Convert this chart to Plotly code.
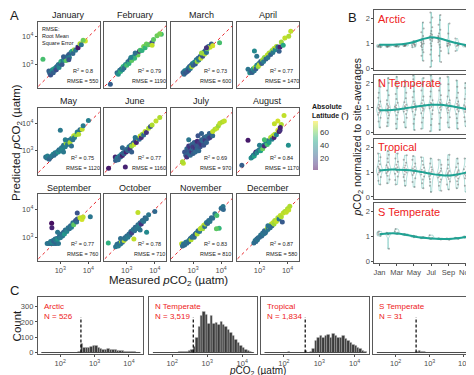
import math
import plotly.graph_objects as go

W, H = 474, 375
FONT = "Liberation Sans, Arial, sans-serif"

# ---------------- Panel A data: (measured, predicted, |latitude|) ----------------
MONTH_NAMES = ["January", "February", "March", "April", "May", "June", "July",
               "August", "September", "October", "November", "December"]
R2_VALUES = ["0.8", "0.79", "0.73", "0.77", "0.75", "0.77", "0.69", "0.84",
             "0.77", "0.78", "0.83", "0.87"]
RMSE_VALUES = [550, 1190, 600, 1470, 1120, 1160, 970, 1170, 760, 710, 810, 580]

JAN = [(390, 590, 55), (420, 480, 52), (450, 420, 58), (500, 560, 48), (520, 650, 42), (560, 500, 55),
       (600, 700, 33), (640, 620, 52), (700, 800, 46), (720, 650, 60), (800, 900, 55), (850, 1000, 48),
       (900, 780, 43), (1000, 1100, 53), (1050, 1300, 30), (1150, 1000, 56), (1250, 1400, 48), (1400, 1500, 38),
       (1500, 1700, 55), (1600, 1400, 22), (1800, 2000, 48), (2000, 2300, 56), (2100, 1800, 46), (2400, 2700, 53),
       (2600, 3000, 33), (2800, 2500, 52), (3200, 3600, 15), (3500, 3300, 48), (4000, 4200, 55), (4300, 4000, 72),
       (5000, 5600, 12), (5600, 5200, 48), (7800, 7100, 8), (6500, 7500, 20), (240, 1550, 25), (1300, 1900, 55),
       (2000, 1500, 58)]
FEB = [(260, 195, 55), (450, 500, 50), (500, 450, 40), (560, 620, 48), (600, 560, 30), (650, 700, 52),
       (700, 650, 44), (750, 850, 28), (800, 750, 50), (900, 1000, 40), (1000, 950, 25), (1100, 1250, 48),
       (1200, 1100, 30), (1300, 1500, 55), (1500, 1400, 22), (1700, 1900, 40), (1900, 1700, 28), (2200, 2400, 48),
       (2500, 2200, 20), (2800, 3000, 70), (3000, 3300, 25), (3500, 3200, 30), (4000, 4500, 18), (4500, 4000, 28),
       (5000, 5500, 20), (6000, 5200, 22), (8000, 6200, 58), (8000, 5000, 10), (9000, 8000, 22), (12000, 11000, 20),
       (17000, 12500, 25), (15000, 13000, 18), (2000, 2600, 50), (1400, 1800, 44)]
MAR = [(440, 520, 55), (480, 450, 52), (500, 600, 48), (550, 520, 58), (600, 650, 42), (620, 560, 55),
       (680, 750, 48), (700, 620, 60), (750, 850, 52), (800, 720, 46), (850, 950, 55), (900, 850, 12),
       (950, 1100, 48), (1000, 950, 53), (1100, 1200, 42), (1200, 1050, 56), (1300, 1500, 48), (1400, 1300, 15),
       (1500, 1700, 52), (1600, 1450, 46), (1800, 2000, 55), (1900, 1700, 10), (2000, 2300, 48), (2200, 2000, 58),
       (2500, 2900, 42), (2600, 2400, 12), (2800, 3300, 55), (3000, 2700, 48), (3200, 3700, 20), (3500, 4500, 52),
       (4000, 4200, 10), (4500, 5500, 55), (5000, 4800, 8), (8800, 6100, 25), (3000, 4000, 66), (2000, 2600, 14)]
APR = [(390, 680, 48), (450, 500, 42), (500, 600, 52), (550, 520, 55), (600, 700, 33), (650, 600, 48),
       (700, 800, 12), (750, 700, 55), (800, 950, 42), (900, 850, 15), (950, 1100, 48), (1000, 1000, 10),
       (1100, 1300, 52), (1200, 1100, 55), (1300, 1500, 12), (1400, 1300, 46), (1500, 1800, 15), (1700, 1600, 53),
       (1900, 2200, 10), (2000, 1800, 48), (2200, 2600, 12), (2500, 2300, 55), (2800, 3200, 15), (3000, 2700, 48),
       (3300, 3800, 10), (3600, 3400, 42), (4000, 4500, 12), (4500, 4300, 52), (5400, 4300, 70), (6000, 6500, 14),
       (7000, 5000, 33), (8000, 9000, 10), (11000, 10500, 12), (13000, 15800, 10), (660, 3100, 42), (800, 2000, 48),
       (5000, 3000, 55)]
MAY = [(300, 600, 50), (330, 550, 47), (350, 650, 45), (400, 500, 53), (450, 600, 50), (500, 650, 47),
       (550, 750, 43), (600, 700, 50), (650, 850, 45), (700, 800, 49), (800, 950, 47), (850, 900, 40),
       (900, 1100, 50), (1000, 1000, 45), (1100, 1300, 47), (1200, 1150, 43), (1300, 1600, 49), (1500, 1400, 45),
       (1600, 1900, 15), (1800, 1700, 47), (2000, 2400, 50), (2200, 2000, 12), (2500, 2800, 45), (2800, 2500, 49),
       (3000, 3500, 10), (3200, 3000, 47), (3600, 3800, 15), (4000, 4800, 45), (4500, 4000, 12), (5000, 5800, 50),
       (6000, 6000, 10), (6500, 8000, 47), (10000, 12500, 45), (1000, 5500, 47), (1500, 2500, 45), (2500, 1500, 50),
       (1300, 900, 47)]
JUN = [(225, 235, 72), (390, 600, 70), (890, 260, 70), (400, 450, 55), (450, 550, 48), (500, 480, 52),
       (550, 650, 46), (600, 600, 55), (650, 750, 48), (700, 680, 70), (750, 850, 52), (800, 780, 55),
       (900, 1000, 48), (950, 900, 70), (1000, 1150, 52), (1100, 1000, 55), (1200, 1400, 46), (1300, 1200, 66),
       (1400, 1600, 53), (1500, 1500, 15), (1700, 1900, 52), (1800, 1700, 10), (2000, 2300, 55), (2200, 2000, 70),
       (2500, 2800, 12), (2800, 2600, 52), (3000, 3400, 10), (3300, 3000, 68), (3600, 4000, 14), (4000, 3700, 52),
       (4500, 5000, 10), (5000, 4600, 66), (6000, 6500, 12), (7000, 7500, 58), (8000, 8500, 12), (11000, 12000, 10),
       (15000, 16000, 12), (1500, 900, 55), (2000, 3000, 48), (700, 1300, 52)]
JUL = [(450, 360, 10), (420, 400, 12), (500, 900, 58), (550, 700, 54), (600, 1200, 52), (600, 600, 66),
       (650, 1000, 58), (700, 800, 54), (700, 1500, 64), (750, 1100, 55), (800, 700, 52), (800, 1300, 66),
       (850, 1000, 58), (900, 1700, 54), (900, 900, 68), (950, 1200, 52), (1000, 1400, 64), (1000, 800, 55),
       (1100, 1100, 58), (1100, 2000, 54), (1200, 1300, 66), (1200, 900, 52), (1300, 1600, 58), (1400, 1200, 54),
       (1400, 2200, 68), (1500, 1500, 55), (1600, 1000, 52), (1700, 2000, 64), (1800, 1400, 58), (2000, 2500, 54),
       (2000, 1700, 66), (2200, 2200, 52), (2400, 1600, 58), (2500, 3000, 55), (2700, 2400, 64), (3000, 2000, 54),
       (3000, 3300, 52), (3500, 2800, 58), (3800, 4200, 54), (4000, 3000, 64), (4500, 4200, 55), (5000, 3500, 52),
       (5000, 5000, 10), (6000, 6000, 12), (7000, 6500, 10), (8000, 8000, 14), (9000, 10000, 10), (11000, 11000, 12),
       (13000, 12000, 10), (700, 2500, 48), (2000, 4200, 54), (1500, 3500, 58)]
AUG = [(235, 300, 55), (390, 2400, 72), (500, 550, 40), (550, 600, 45), (600, 700, 50), (650, 650, 35),
       (700, 800, 45), (750, 900, 70), (800, 850, 40), (900, 1000, 47), (1000, 1100, 50), (1100, 1000, 35),
       (1200, 1400, 45), (1300, 1200, 20), (1400, 1600, 40), (1500, 1500, 68), (1700, 1900, 45), (1900, 1700, 25),
       (2000, 2300, 50), (2200, 2000, 35), (2500, 3000, 12), (2800, 2600, 45), (3000, 3500, 10), (3300, 3000, 70),
       (3500, 4000, 12), (4000, 3800, 45), (4500, 5500, 8), (5000, 5000, 72), (5400, 5500, 66), (3400, 9500, 10),
       (4500, 12000, 8), (6000, 9000, 12), (7500, 19000, 10), (5500, 7000, 70), (10700, 1600, 40), (1000, 1600, 45),
       (1500, 2500, 25)]
SEP = [(340, 590, 48), (380, 590, 50), (420, 590, 46), (460, 590, 53), (520, 590, 48), (580, 590, 50),
       (650, 600, 46), (700, 590, 52), (860, 590, 48), (450, 700, 48), (500, 650, 43), (550, 750, 50),
       (600, 700, 53), (650, 850, 48), (700, 780, 46), (750, 900, 50), (800, 850, 38), (900, 1000, 48),
       (950, 1200, 53), (1000, 950, 46), (1100, 1300, 50), (1200, 1100, 48), (1300, 1500, 52), (1400, 1300, 38),
       (1500, 1800, 50), (1700, 1600, 43), (1900, 2200, 48), (2100, 2000, 50), (2300, 2600, 52), (2500, 2300, 46),
       (2800, 3300, 48), (3000, 2800, 22), (3500, 4000, 58), (3800, 3500, 50), (4000, 4500, 56), (5000, 5000, 10),
       (5900, 4300, 8), (6500, 5300, 10), (4000, 7400, 58), (11700, 5400, 48), (490, 3200, 74), (500, 2200, 70),
       (800, 1500, 48)]
OCT = [(220, 620, 30), (400, 450, 48), (450, 550, 50), (500, 480, 46), (550, 620, 52), (600, 560, 48),
       (650, 700, 12), (700, 650, 50), (750, 800, 48), (800, 750, 10), (850, 950, 52), (900, 850, 48),
       (1000, 1100, 50), (1100, 1000, 46), (1200, 1300, 52), (1300, 1200, 48), (1400, 1600, 50), (1500, 1400, 62),
       (1700, 1900, 48), (1800, 860, 10), (1900, 1700, 50), (2000, 2300, 52), (2200, 2000, 48), (2500, 2800, 50),
       (2700, 2500, 46), (3000, 3300, 52), (3300, 3000, 66), (3600, 4000, 50), (4000, 3700, 48), (4500, 5000, 52),
       (5000, 4600, 50), (6000, 6500, 48), (5100, 1500, 42), (2500, 7800, 10), (10000, 8500, 52), (3000, 1800, 48),
       (600, 900, 50)]
NOV = [(390, 580, 10), (420, 480, 50), (450, 560, 48), (500, 520, 52), (550, 650, 48), (600, 600, 50),
       (650, 700, 46), (700, 680, 52), (750, 800, 48), (800, 900, 50), (850, 800, 12), (900, 1000, 52),
       (1000, 1100, 48), (1100, 1000, 50), (1200, 1300, 58), (1300, 1400, 48), (1400, 1300, 12), (1500, 1700, 52),
       (1700, 1600, 48), (1800, 2000, 10), (2000, 2200, 12), (2200, 2000, 14), (2400, 2700, 10), (2600, 2400, 50),
       (2800, 3000, 12), (3000, 3400, 48), (3300, 3100, 52), (3600, 4000, 50), (4000, 3700, 48), (4500, 5000, 52),
       (5000, 4800, 50), (6000, 7000, 48), (7000, 6000, 25), (8500, 2100, 28), (6800, 2000, 22), (10000, 11000, 50),
       (11700, 12900, 48), (12000, 10000, 52)]
DEC = [(630, 620, 50), (700, 750, 48), (750, 700, 52), (800, 850, 50), (850, 800, 48), (900, 950, 52),
       (1000, 1000, 50), (1100, 1200, 48), (1200, 1100, 52), (1300, 1400, 50), (1400, 1300, 48), (1500, 1700, 52),
       (1700, 1600, 50), (1900, 2100, 12), (2000, 1900, 48), (2200, 2400, 10), (2400, 2200, 50), (2600, 2900, 12),
       (2800, 2600, 52), (3000, 3300, 10), (3300, 3000, 14), (3500, 4000, 12), (4000, 3700, 10), (4500, 5000, 12),
       (5000, 4500, 48), (5500, 6000, 10), (6000, 5500, 12), (6500, 3500, 56), (7000, 7500, 10), (8000, 8500, 12),
       (9000, 8000, 10), (10000, 10500, 12), (11000, 9500, 10), (12000, 13000, 12), (2000, 2600, 48), (1600, 1400, 50)]
MONTH_POINTS = [JAN, FEB, MAR, APR, MAY, JUN, JUL, AUG, SEP, OCT, NOV, DEC]

A_TICK_VALS = [1000, 10000]
A_TICK_TEXT = ["10<sup>3</sup>", "10<sup>4</sup>"]
IDENTITY = [10, 100000]
LAT_TICKS = [20, 40, 60]

# ---------------- Panel B data ----------------
B_MONTH_NUM = [1, 2, 3, 4, 5, 6, 7, 8, 9, 10, 11, 12]
B_TICK_VALS = [1, 3, 5, 7, 9, 11]
B_TICK_TEXT = ["Jan", "Mar", "May", "Jul", "Sep", "Nov"]
REGIONS = ["Arctic", "N Temperate", "Tropical", "S Temperate"]

ARCTIC_VIOLIN = [
    [0.85, 0.88, 0.9, 0.9, 0.92, 0.95, 0.87, 0.93],
    [0.86, 0.9, 0.92, 0.9, 0.94, 0.88, 0.91],
    [0.88, 0.9, 0.93, 0.95, 0.9, 0.87, 0.92],
    [0.9, 0.93, 0.95, 0.97, 0.92, 0.96, 0.9],
    [0.9, 0.95, 1.0, 1.05, 0.97, 1.02, 0.93, 1.1, 0.85],
    [0.3, 0.5, 0.65, 0.75, 0.85, 0.9, 0.95, 1.0, 1.0, 1.05, 1.1, 1.15, 1.2, 1.3, 1.45, 1.6, 1.85],
    [0.05, 0.3, 0.55, 0.75, 0.9, 1.0, 1.1, 1.15, 1.2, 1.2, 1.25, 1.3, 1.35, 1.4, 1.5, 1.65, 1.85, 2.05, 2.25],
    [0.25, 0.5, 0.7, 0.85, 0.95, 1.05, 1.1, 1.15, 1.2, 1.25, 1.3, 1.4, 1.55, 1.75, 1.95, 2.15],
    [0.9, 0.95, 1.0, 1.05, 1.0, 0.92, 1.1, 1.4, 1.8, 0.6],
    [0.9, 0.95, 1.0, 0.97, 1.02, 0.93, 1.2, 0.7],
    [0.88, 0.9, 0.93, 0.9, 0.92, 0.86],
    [0.85, 0.87, 0.9, 0.88, 0.86, 0.84],
]
NTEMP_VIOLIN = [
    [0.2, 0.45, 0.6, 0.72, 0.8, 0.85, 0.9, 0.92, 0.95, 1.0, 1.05, 1.12, 1.25, 1.4, 1.6, 1.85, 2.1],
    [0.25, 0.4, 0.58, 0.7, 0.8, 0.86, 0.9, 0.93, 0.97, 1.02, 1.08, 1.15, 1.3, 1.5, 1.7, 2.0, 2.2],
    [0.15, 0.35, 0.55, 0.7, 0.82, 0.88, 0.92, 0.95, 1.0, 1.04, 1.1, 1.2, 1.35, 1.55, 1.8, 2.05, 2.25],
    [0.2, 0.42, 0.6, 0.75, 0.85, 0.9, 0.95, 0.98, 1.02, 1.06, 1.12, 1.22, 1.38, 1.6, 1.85, 2.1],
    [0.1, 0.35, 0.55, 0.72, 0.85, 0.92, 0.97, 1.0, 1.04, 1.08, 1.15, 1.25, 1.42, 1.65, 1.9, 2.15, 2.3],
    [0.15, 0.4, 0.6, 0.78, 0.88, 0.95, 1.0, 1.04, 1.08, 1.12, 1.18, 1.3, 1.45, 1.7, 1.95, 2.2],
    [0.05, 0.3, 0.55, 0.75, 0.9, 0.98, 1.04, 1.08, 1.12, 1.15, 1.2, 1.3, 1.45, 1.65, 1.9, 2.1, 2.3],
    [0.1, 0.35, 0.6, 0.8, 0.92, 1.0, 1.05, 1.1, 1.13, 1.17, 1.22, 1.32, 1.5, 1.7, 1.95, 2.2],
    [0.2, 0.4, 0.62, 0.8, 0.9, 0.97, 1.02, 1.06, 1.1, 1.15, 1.2, 1.3, 1.45, 1.7, 1.95, 2.25],
    [0.15, 0.38, 0.58, 0.75, 0.86, 0.93, 0.98, 1.02, 1.05, 1.1, 1.16, 1.25, 1.4, 1.6, 1.85, 2.1],
    [0.25, 0.45, 0.62, 0.75, 0.83, 0.89, 0.93, 0.96, 1.0, 1.04, 1.1, 1.2, 1.35, 1.55, 1.8, 2.0],
    [0.3, 0.5, 0.65, 0.75, 0.82, 0.87, 0.9, 0.93, 0.97, 1.02, 1.08, 1.18, 1.3, 1.5, 1.75],
]
TROP_VIOLIN = [
    [0.5, 0.65, 0.8, 0.9, 0.98, 1.03, 1.07, 1.1, 1.15, 1.22, 1.32, 1.45, 1.6, 1.75],
    [0.55, 0.7, 0.85, 0.95, 1.02, 1.06, 1.1, 1.14, 1.2, 1.28, 1.4, 1.55, 1.7, 1.85],
    [0.5, 0.68, 0.82, 0.93, 1.0, 1.06, 1.1, 1.15, 1.2, 1.3, 1.42, 1.55, 1.75],
    [0.45, 0.65, 0.8, 0.9, 0.98, 1.04, 1.08, 1.12, 1.18, 1.27, 1.38, 1.5, 1.68],
    [0.4, 0.6, 0.75, 0.88, 0.95, 1.0, 1.05, 1.1, 1.15, 1.22, 1.35, 1.5, 1.65],
    [0.35, 0.55, 0.7, 0.82, 0.9, 0.96, 1.0, 1.04, 1.1, 1.18, 1.3, 1.45, 1.6],
    [0.2, 0.45, 0.6, 0.72, 0.82, 0.88, 0.93, 0.97, 1.02, 1.1, 1.2, 1.35, 1.55],
    [0.25, 0.45, 0.6, 0.7, 0.78, 0.84, 0.88, 0.92, 0.97, 1.05, 1.15, 1.3, 1.5],
    [0.3, 0.5, 0.62, 0.72, 0.8, 0.85, 0.88, 0.92, 0.98, 1.05, 1.15, 1.3, 1.5, 1.7],
    [0.35, 0.5, 0.63, 0.74, 0.82, 0.87, 0.9, 0.94, 1.0, 1.08, 1.2, 1.35, 1.55],
    [0.2, 0.45, 0.6, 0.75, 0.85, 0.92, 0.97, 1.0, 1.05, 1.12, 1.22, 1.35, 1.55],
    [0.5, 0.65, 0.8, 0.92, 1.0, 1.06, 1.1, 1.14, 1.2, 1.28, 1.4, 1.55, 1.75],
]
STEMP_VIOLIN = [
    [1.02, 1.08, 1.1, 1.15, 1.2],
    [1.08, 1.12, 1.15, 1.1, 0.5],
    [1.1, 1.15, 1.2, 1.3, 1.12],
    [1.05, 1.08, 1.1, 1.06],
    [0.97, 1.0, 1.03, 1.01],
    [0.93, 0.96, 0.98, 0.95],
    [0.9, 0.92, 0.95, 0.93, 1.05],
    [0.88, 0.9, 0.93, 0.91],
    [0.87, 0.9, 0.92, 0.89],
    [0.9, 0.93, 0.95, 0.94],
    [0.95, 0.98, 1.0, 0.97],
    [1.02, 1.05, 1.08, 1.06],
]
ARCTIC_SMOOTH = [0.95, 0.95, 0.96, 0.99, 1.06, 1.17, 1.25, 1.2, 1.1, 1.01, 0.94, 0.9]
NTEMP_SMOOTH = [0.9, 0.9, 0.93, 0.98, 1.03, 1.08, 1.12, 1.12, 1.08, 1.02, 0.95, 0.9]
TROP_SMOOTH = [1.07, 1.1, 1.1, 1.09, 1.06, 1.0, 0.93, 0.88, 0.86, 0.9, 0.98, 1.1]
STEMP_SMOOTH = [1.09, 1.12, 1.12, 1.07, 1.0, 0.95, 0.92, 0.9, 0.9, 0.93, 0.98, 1.05]

# ---------------- Panel C data ----------------
HIST_BIN_LOG10 = [2.00, 2.07, 2.14, 2.21, 2.28, 2.35, 2.42, 2.49, 2.56, 2.63, 2.70, 2.77, 2.84, 2.91,
                  2.98, 3.05, 3.12, 3.19, 3.26, 3.33, 3.40, 3.47, 3.54, 3.61, 3.68, 3.75, 3.82, 3.89,
                  3.96, 4.03, 4.10, 4.17, 4.24, 4.31]
ARCTIC_COUNTS = [0, 0, 0, 0, 0, 0, 0, 2, 3, 55, 35, 33, 30, 36, 42, 45, 30, 25, 20, 18, 22, 20, 20, 18,
                 15, 14, 12, 8, 6, 5, 4, 3, 2, 0]
NTEMP_COUNTS = [0, 0, 2, 3, 4, 6, 8, 12, 18, 40, 100, 170, 240, 270, 245, 190, 240, 190, 195, 185, 200,
                180, 170, 150, 130, 110, 85, 62, 45, 30, 18, 10, 5, 2]
TROP_COUNTS = [0, 0, 6, 0, 0, 0, 0, 0, 0, 14, 0, 3, 25, 80, 95, 110, 100, 110, 115, 100, 120, 110, 95,
               100, 110, 90, 75, 62, 52, 45, 35, 25, 15, 4]
STEMP_COUNTS = [0, 0, 0, 0, 0, 0, 0, 0, 0, 4, 14, 6, 3, 0, 0, 0, 0, 0, 0, 0, 0, 0, 0, 0, 0, 0, 0, 0,
                0, 1, 0, 1, 0, 0]
REGION_N = ["526", "3,519", "1,834", "31"]
ATM_PCO2 = 400
ATM_LINE_TOP = 230
HIST_ZERO_SPAN_LOG10 = [1.45, 4.33]
C_TICK_VALS = [2, 3, 4]
C_TICK_TEXT = ["10<sup>2</sup>", "10<sup>3</sup>", "10<sup>4</sup>"]
C_Y_TICKS = [0, 100, 200, 300]

# ---------------- helpers ----------------
def fx(x):
    return x / W


def fy(y):
    return 1 - y / H


def ax_name(k, letter):
    return f"{letter}axis" if k == 1 else f"{letter}axis{k}"


def ax_ref(k, letter):
    return letter if k == 1 else f"{letter}{k}"


BORDER = "#595959"
TICKC = "#4d4d4d"
RED = "#ee2222"
TEAL = "#1fa394"
VIRIDIS_PALE = [[0.0, "#a280aa"], [0.111, "#a494bc"], [0.222, "#9fa4c4"], [0.333, "#98b4c7"],
                [0.444, "#93c1c7"], [0.556, "#8fcfc4"], [0.667, "#9adbbc"], [0.778, "#b7e7ac"],
                [0.889, "#daef95"], [1.0, "#fef392"]]
LAT_MIN, LAT_MAX = 3, 77

fig = go.Figure()
layout = dict(width=W, height=H, margin=dict(l=0, r=0, t=0, b=0),
              paper_bgcolor="white", plot_bgcolor="white", showlegend=False,
              font=dict(family=FONT, color="#1a1a1a"), violinmode="overlay", bargap=0)
annotations = []


def add_text(x, y, text, size, color="#1a1a1a", xanchor="center", yanchor="middle", angle=0, **kw):
    annotations.append(dict(x=fx(x), y=fy(y), xref="paper", yref="paper", text=text, showarrow=False,
                            font=dict(size=size, color=color, family=FONT), xanchor=xanchor,
                            yanchor=yanchor, textangle=angle, **kw))


def box_axis(**kw):
    d = dict(showline=True, mirror=True, linecolor=BORDER, linewidth=1, showgrid=False,
             zeroline=False, ticklen=2, tickcolor=TICKC, tickfont=dict(size=7.5, color=TICKC, family=FONT))
    d.update(kw)
    return d


# ---------------- Panel A ----------------
A_COLS = [(29, 91), (95.7, 157.7), (162.3, 224.3), (229, 291)]
A_ROWS = [(14, 81), (101, 168), (188, 255)]
for i, pts in enumerate(MONTH_POINTS):
    k = i + 1
    r, c = divmod(i, 4)
    x0, x1 = A_COLS[c]
    y0, y1 = A_ROWS[r]
    xa, ya = ax_ref(k, "x"), ax_ref(k, "y")
    fig.add_trace(go.Scatter(x=IDENTITY, y=IDENTITY, mode="lines", xaxis=xa, yaxis=ya,
                             line=dict(color="#e8262b", width=1, dash="3px,3px"), hoverinfo="skip"))
    fig.add_trace(go.Scatter(x=[p[0] for p in pts], y=[p[1] for p in pts], mode="markers",
                             xaxis=xa, yaxis=ya,
                             marker=dict(size=5, color=[p[2] for p in pts], colorscale="Viridis",
                                         reversescale=True, cmin=LAT_MIN, cmax=LAT_MAX, line=dict(width=0))))
    bottom = (r == 2)
    left = (c == 0)
    layout[ax_name(k, "x")] = box_axis(domain=[fx(x0), fx(x1)], anchor=ya, type="log",
                                       range=[2.2, 4.4], tickvals=A_TICK_VALS, ticktext=A_TICK_TEXT,
                                       showticklabels=bottom, ticks="outside" if bottom else "")
    layout[ax_name(k, "y")] = box_axis(domain=[fy(y1), fy(y0)], anchor=xa, type="log",
                                       range=[2.14, 4.54], tickvals=A_TICK_VALS, ticktext=A_TICK_TEXT,
                                       showticklabels=left, ticks="outside" if left else "")
    add_text((x0 + x1) / 2, y0 - 7, MONTH_NAMES[i], 9)
    add_text(x1 - 17, y1 - 17, f"R<sup>2</sup> = {R2_VALUES[i]}", 5.5)
    add_text(x1 - 17, y1 - 7, f"RMSE = {RMSE_VALUES[i]}", 5.5)

add_text(31, 16, "RMSE:<br>Root Mean<br>Square Error", 5.5, xanchor="left", yanchor="top", align="left",
         bgcolor="rgba(255,255,255,0.9)")

# colour bar
fig.add_trace(go.Scatter(x=[10], y=[10], mode="markers", xaxis="x", yaxis="y", hoverinfo="skip",
                         marker=dict(size=1, color=[40], colorscale=VIRIDIS_PALE, cmin=LAT_MIN, cmax=LAT_MAX,
                                     showscale=True,
                                     colorbar=dict(x=fx(305), xanchor="left", y=fy(138.5), yanchor="middle",
                                                   len=49 / H, lenmode="fraction", thickness=5,
                                                   thicknessmode="pixels", outlinewidth=0, xpad=0, ypad=0,
                                                   tickvals=LAT_TICKS, ticks="",
                                                   tickfont=dict(size=8, color="#333", family=FONT)))))
add_text(302, 104, "<b>Absolute<br>Latitude (°)</b>", 7, xanchor="left", align="left")

add_text(8, 135, "Predicted <i>p</i>CO<sub>2</sub> (µatm)", 11.5, angle=-90)
add_text(160, 275, "Measured <i>p</i>CO<sub>2</sub> (µatm)", 11.5)
add_text(6, 8, "A", 13)

# ---------------- Panel B ----------------
B_X = (367, 473.5)
B_ROWS = [(2.5, 62.5), (67.3, 127.3), (132.2, 192.2), (197, 257)]
violins = [ARCTIC_VIOLIN, NTEMP_VIOLIN, TROP_VIOLIN, STEMP_VIOLIN]
smooths = [ARCTIC_SMOOTH, NTEMP_SMOOTH, TROP_SMOOTH, STEMP_SMOOTH]
for j in range(4):
    k = 13 + j
    xa, ya = ax_ref(k, "x"), ax_ref(k, "y")
    xs, ys = [], []
    for m, vals in zip(B_MONTH_NUM, violins[j]):
        xs += [m] * len(vals)
        ys += vals
    fig.add_trace(go.Violin(x=xs, y=ys, xaxis=xa, yaxis=ya, points="all", jitter=0.6, pointpos=0,
                            width=0.7, spanmode="hard", scalemode="width", bandwidth=0.1,
                            line=dict(color="rgba(31,163,148,0.5)", width=0.7),
                            fillcolor="rgba(255,255,255,0)",
                            marker=dict(size=2, color="rgba(100,100,100,0.5)"),
                            box_visible=False, meanline_visible=False, hoverinfo="skip"))
    fig.add_trace(go.Scatter(x=B_MONTH_NUM, y=smooths[j], mode="lines", xaxis=xa, yaxis=ya,
                             line=dict(color=TEAL, width=2, shape="spline"), hoverinfo="skip"))
    y0, y1 = B_ROWS[j]
    bottom = (j == 3)
    layout[ax_name(k, "x")] = box_axis(domain=[fx(B_X[0]), fx(B_X[1])], anchor=ya, range=[0.42, 12.72],
                                       tickvals=B_TICK_VALS, ticktext=B_TICK_TEXT,
                                       showticklabels=bottom, ticks="outside" if bottom else "")
    layout[ax_name(k, "y")] = box_axis(domain=[fy(y1), fy(y0)], anchor=xa, range=[-0.07, 2.33],
                                       tickvals=[0, 1, 2], ticks="outside")
    annotations.append(dict(x=0.6, y=2, xref=xa, yref=ya, text=REGIONS[j], showarrow=False,
                            xanchor="left", yanchor="middle",
                            font=dict(size=11, color=RED, family=FONT)))

add_text(350, 130, "<i>p</i>CO<sub>2</sub> normalized to site-averages", 10.5, angle=-90)
add_text(345, 10, "B", 13)

# ---------------- Panel C ----------------
C_COLS = [(29, 135), (141, 249), (253, 362), (366, 471)]
C_ROW = (291, 349)
counts = [ARCTIC_COUNTS, NTEMP_COUNTS, TROP_COUNTS, STEMP_COUNTS]
atm_log = math.log10(ATM_PCO2)
for j in range(4):
    k = 17 + j
    xa, ya = ax_ref(k, "x"), ax_ref(k, "y")
    fig.add_trace(go.Scatter(x=HIST_ZERO_SPAN_LOG10, y=[0, 0], mode="lines", xaxis=xa, yaxis=ya,
                             line=dict(color="#4a4a4a", width=1), hoverinfo="skip"))
    fig.add_trace(go.Bar(x=HIST_BIN_LOG10, y=counts[j], width=0.07, xaxis=xa, yaxis=ya,
                         marker=dict(color="#3a3a3a", line=dict(color="#bdbdbd", width=0.4)),
                         hoverinfo="skip"))
    fig.add_trace(go.Scatter(x=[atm_log, atm_log], y=[0, ATM_LINE_TOP], mode="lines", xaxis=xa, yaxis=ya,
                             line=dict(color="black", width=1.2, dash="3px,2px"), hoverinfo="skip"))
    x0, x1 = C_COLS[j]
    left = (j == 0)
    layout[ax_name(k, "x")] = box_axis(domain=[fx(x0), fx(x1)], anchor=ya, range=[1.35, 4.42],
                                       tickvals=C_TICK_VALS, ticktext=C_TICK_TEXT, ticks="outside")
    layout[ax_name(k, "y")] = box_axis(domain=[fy(C_ROW[1]), fy(C_ROW[0])], anchor=xa, range=[-11, 365],
                                       tickvals=C_Y_TICKS, showticklabels=left,
                                       ticks="outside" if left else "")
    add_text(x0 + 4, 301, REGIONS[j], 8, color=RED, xanchor="left")
    add_text(x0 + 4, 311, f"N = {REGION_N[j]}", 8, color=RED, xanchor="left")

add_text(8, 320, "Count", 11.5, angle=-90)
add_text(250, 374, "<i>p</i>CO<sub>2</sub> (µatm)", 10, yanchor="bottom")
add_text(6, 285, "C", 13)

layout["annotations"] = annotations
fig.update_layout(**layout)
fig.write_html("out.html")
